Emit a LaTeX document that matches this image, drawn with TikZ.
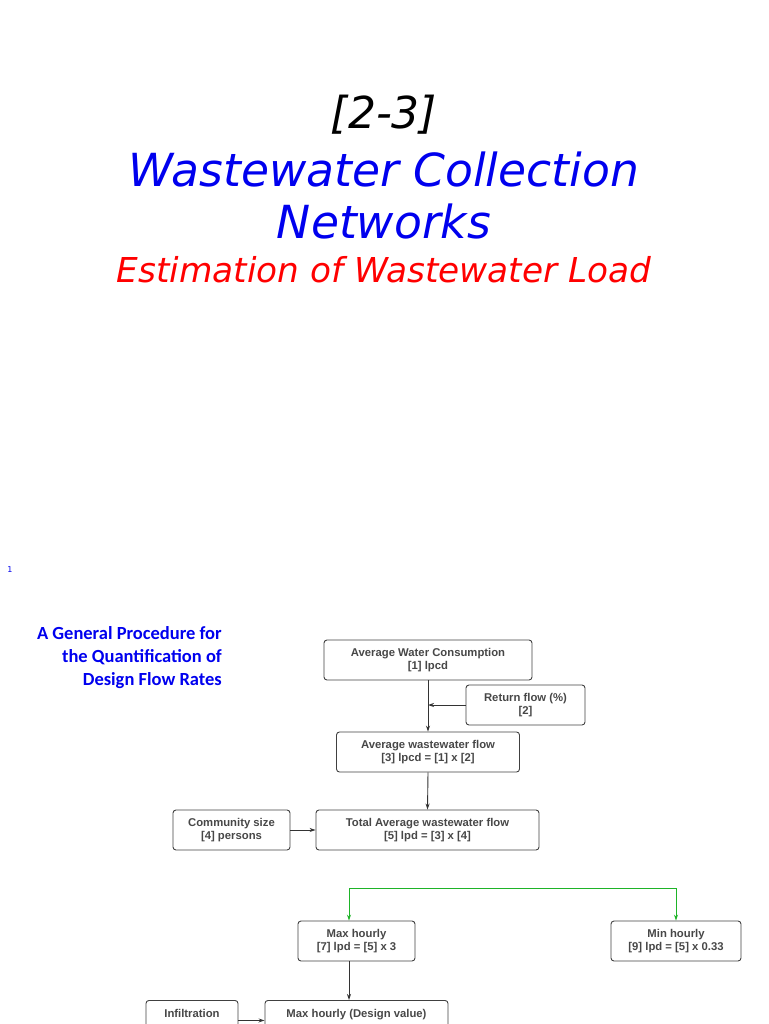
\documentclass[tikz,border=0pt]{standalone}
\usepackage{fontspec}
\setmainfont{DejaVu Sans}
\newfontfamily\carl{Carlito}
\newfontfamily\boxf{Liberation Sans}
\usetikzlibrary{arrows.meta}
\definecolor{tblue}{RGB}{0,0,238}
\definecolor{tgreen}{RGB}{30,180,40}
\begin{document}
\begin{tikzpicture}[x=1pt,y=-1pt,
  fbox/.style={draw=black!75,line width=0.9pt,rounded corners=3pt,minimum height=40pt,align=center,font=\boxf\fontsize{11.3}{12.5}\selectfont\bfseries,text=black!72,inner sep=1pt},
  conn/.style={-{Stealth[length=6pt,width=4pt]},line width=0.9pt,draw=black!80},
  gconn/.style={-{Stealth[length=6pt,width=4pt]},line width=0.9pt,draw=tgreen}]
\useasboundingbox (0,0) rectangle (768,1024);
\clip (0,0) rectangle (768,1024);
\node (t1) at (384,115) {\fontsize{44}{52}\selectfont\itshape [2-3]};
\node (t2) at (384,170) {\fontsize{45.6}{52}\selectfont\itshape\color{tblue}Wastewater Collection};
\node (t3) at (384,222) {\fontsize{45.6}{52}\selectfont\itshape\color{tblue}Networks};
\node (t4) at (384,270) {\fontsize{34.3}{40}\selectfont\itshape\color{red}Estimation of Wastewater Load};
\node (pg) at (10,570) {\fontsize{8}{10}\selectfont\color{tblue}1};
\node[anchor=north east,align=right,font=\carl\fontsize{18.5}{23}\selectfont\bfseries,text=tblue,inner sep=0pt] (lt) at (222,626) {A General Procedure for\\the Quantification of\\Design Flow Rates};
\node[fbox,minimum width=208pt] (awc) at (428,660) {Average Water Consumption\\{}[1] lpcd};
\node[fbox,minimum width=119pt] (ret) at (525.5,705) {Return flow (\%)\\{}[2]};
\node[fbox,minimum width=183pt] (aww) at (428,752) {Average wastewater flow\\{}[3] lpcd = [1] x [2]};
\node[fbox,minimum width=117pt] (com) at (231.5,830) {Community size\\{}[4] persons};
\node[fbox,minimum width=223pt] (tot) at (427.5,830) {Total Average wastewater flow\\{}[5] lpd = [3] x [4]};
\node[fbox,minimum width=117pt] (max) at (356.5,941) {Max hourly\\{}[7] lpd = [5] x 3};
\node[fbox,minimum width=130pt] (min) at (676,941) {Min hourly\\{}[9] lpd = [5] x 0.33};
\node[fbox,minimum width=92pt,anchor=north] (inf) at (192,1000) {Infiltration\\\phantom{[6]}};
\node[fbox,minimum width=183pt,anchor=north] (des) at (356.5,1000) {Max hourly (Design value)\\\phantom{[8]}};
\coordinate (jn) at (awc.south |- ret.west);
\draw[conn] (awc.south) -- (aww.north);
\draw[conn] (ret.west) -- (jn);
\draw[conn] (aww.south) -- (tot.north);
\draw[conn] (com.east) -- (tot.west);
\coordinate (gl) at (349,888);
\coordinate (gr) at (676,888);
\draw[gconn] (gl) -- (gl |- max.north);
\draw[gconn] (gr) -- (min.north);
\draw[tgreen,line width=0.9pt] (gl) -- (gr);
\draw[conn] (max.south -| gl) -- (des.north -| gl);
\draw[conn] (inf.east) -- (des.west);
\end{tikzpicture}
\end{document}
